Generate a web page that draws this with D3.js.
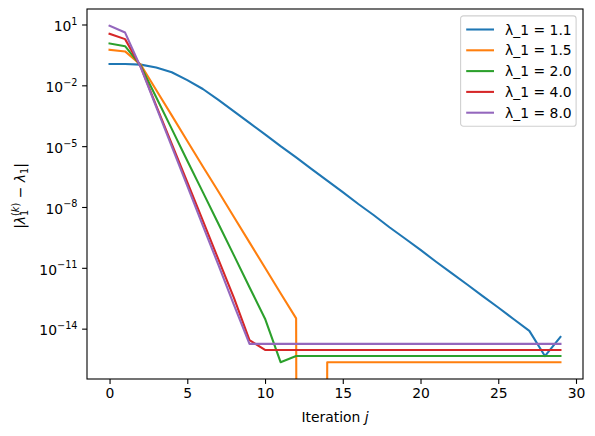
<!DOCTYPE html>
<html>
<head>
<meta charset="utf-8">
<script src="https://cdn.jsdelivr.net/npm/d3@7"></script>
<style>
  html, body { margin: 0; padding: 0; background: #fff; }
  svg { display: block; font-family: 'DejaVu Sans', sans-serif; }
</style>
</head>
<body>
<div class="viz"></div>
<script>
// iteration index on the horizontal axis
const iterations = [0, 1, 2, 3, 4, 5, 6, 7, 8, 9, 10, 11, 12, 13, 14, 15, 16, 17, 18, 19, 20, 21, 22, 23, 24, 25, 26, 27, 28, 29];
const seriesLabels = ['λ_1 = 1.1', 'λ_1 = 1.5', 'λ_1 = 2.0', 'λ_1 = 4.0', 'λ_1 = 8.0'];
// absolute error of the estimate, one array per lambda (0 means exact, drawn off the bottom)
const errorLambda11 = [0.112, 0.112, 0.105, 0.076, 0.044, 0.018, 6.6e-3, 1.9e-3, 5.2e-4, 1.4e-4, 3.8e-5, 1.0e-5, 2.8e-6, 7.4e-7, 2.0e-7, 5.4e-8, 1.4e-8, 3.9e-9, 1.0e-9, 2.8e-10, 7.6e-11, 2.0e-11, 5.5e-12, 1.5e-12, 4.0e-13, 1.1e-13, 2.9e-14, 7.8e-15, 4.44e-16, 3.9e-15];
const errorLambda15 = [0.57, 0.47, 0.105, 5.9e-3, 3.3e-4, 1.8e-5, 1.0e-6, 5.8e-8, 3.2e-9, 1.8e-10, 1.0e-11, 5.6e-13, 3.2e-14, 0, 2.22e-16, 2.22e-16, 2.22e-16, 2.22e-16, 2.22e-16, 2.22e-16, 2.22e-16, 2.22e-16, 2.22e-16, 2.22e-16, 2.22e-16, 2.22e-16, 2.22e-16, 2.22e-16, 2.22e-16, 2.22e-16];
const errorLambda20 = [1.16, 0.85, 0.093, 2.6e-3, 7.1e-5, 1.9e-6, 5.4e-8, 1.5e-9, 4.1e-11, 1.1e-12, 3.1e-14, 2.22e-16, 4.44e-16, 4.44e-16, 4.44e-16, 4.44e-16, 4.44e-16, 4.44e-16, 4.44e-16, 4.44e-16, 4.44e-16, 4.44e-16, 4.44e-16, 4.44e-16, 4.44e-16, 4.44e-16, 4.44e-16, 4.44e-16, 4.44e-16, 4.44e-16];
const errorLambda40 = [3.5, 1.9, 0.083, 1.0e-3, 1.3e-5, 1.7e-7, 2.1e-9, 2.6e-11, 3.3e-13, 2.7e-15, 8.88e-16, 8.88e-16, 8.88e-16, 8.88e-16, 8.88e-16, 8.88e-16, 8.88e-16, 8.88e-16, 8.88e-16, 8.88e-16, 8.88e-16, 8.88e-16, 8.88e-16, 8.88e-16, 8.88e-16, 8.88e-16, 8.88e-16, 8.88e-16, 8.88e-16, 8.88e-16];
const errorLambda80 = [8.6, 4.0, 0.078, 8.7e-4, 9.8e-6, 1.1e-7, 1.2e-9, 1.4e-11, 1.5e-13, 1.78e-15, 1.78e-15, 1.78e-15, 1.78e-15, 1.78e-15, 1.78e-15, 1.78e-15, 1.78e-15, 1.78e-15, 1.78e-15, 1.78e-15, 1.78e-15, 1.78e-15, 1.78e-15, 1.78e-15, 1.78e-15, 1.78e-15, 1.78e-15, 1.78e-15, 1.78e-15, 1.78e-15];
// tick values
const xTicks = [0, 5, 10, 15, 20, 25, 30];
const yTickExponents = [1, -2, -5, -8, -11, -14];

const colors = ['#1f77b4', '#ff7f0e', '#2ca02c', '#d62728', '#9467bd'];
const series = [errorLambda11, errorLambda15, errorLambda20, errorLambda40, errorLambda80]
  .map((values, i) => ({ label: seriesLabels[i], color: colors[i], values }));

const svgWidth = 595;
const svgHeight = 436;
const margin = {
  top: 9,
  right: 12,
  bottom: 57,
  left: 87,
};
const width = svgWidth - (margin.left + margin.right);
const height = svgHeight - (margin.top + margin.bottom);
const fontSize = 13.9;

const svg = d3
  .select('.viz')
  .append('svg')
  .attr('width', svgWidth)
  .attr('height', svgHeight);

svg
  .append('defs')
  .append('clipPath')
  .attr('id', 'plot-clip')
  .append('rect')
  .attr('width', width)
  .attr('height', height);

const group = svg
  .append('g')
  .attr('transform', `translate(${margin.left} ${margin.top})`);

// horizontal scale with matplotlib-like 5% margins
const xExtent = d3.extent(iterations);
const xPad = (xExtent[1] - xExtent[0]) * 0.05;
const xScale = d3
  .scaleLinear()
  .domain([xExtent[0] - xPad, xExtent[1] + xPad])
  .range([0, width]);

// log scale, margins computed in log space on positive values only
const positives = series.flatMap(d => d.values.filter(v => v > 0));
const logMin = Math.log10(d3.min(positives));
const logMax = Math.log10(d3.max(positives));
const logPad = (logMax - logMin) * 0.05;
const yScale = d3
  .scaleLog()
  .domain([10 ** (logMin - logPad), 10 ** (logMax + logPad)])
  .range([height, 0]);

// zero values are clipped to a tiny number, like matplotlib does
const line = d3
  .line()
  .x((d, i) => xScale(iterations[i]))
  .y(d => yScale(d > 0 ? d : 1e-300));

const groupLines = group
  .append('g')
  .attr('clip-path', 'url(#plot-clip)');

groupLines
  .selectAll('path')
  .data(series)
  .enter()
  .append('path')
  .attr('d', d => line(d.values))
  .attr('fill', 'none')
  .attr('stroke', d => d.color)
  .attr('stroke-width', 2.08)
  .attr('stroke-linejoin', 'round')
  .attr('stroke-linecap', 'square');

// x axis
const xAxis = d3
  .axisBottom(xScale)
  .tickValues(xTicks)
  .tickSize(4.9)
  .tickPadding(4)
  .tickFormat(d3.format('d'));

const gx = group
  .append('g')
  .attr('transform', `translate(0 ${height})`)
  .call(xAxis);

gx.select('.domain').remove();
gx.selectAll('line').attr('stroke', '#000').attr('stroke-width', 1.1);
gx.selectAll('text')
  .attr('font-family', 'DejaVu Sans')
  .attr('font-size', fontSize)
  .attr('fill', '#000');

// y axis with 10^n labels
const yAxis = d3
  .axisLeft(yScale)
  .tickValues(yTickExponents.map(e => 10 ** e))
  .tickSize(4.9)
  .tickFormat('');

const gy = group
  .append('g')
  .call(yAxis);

gy.select('.domain').remove();
gy.selectAll('line').attr('stroke', '#000').attr('stroke-width', 1.1);

const yLabels = gy
  .selectAll('.tick')
  .append('text')
  .attr('x', -9.5)
  .attr('y', 6.3)
  .attr('text-anchor', 'end')
  .attr('fill', '#000')
  .attr('font-family', 'DejaVu Sans')
  .attr('font-size', fontSize);

yLabels
  .append('tspan')
  .text('10');
yLabels
  .append('tspan')
  .attr('font-size', 9.7)
  .attr('dy', -6.3)
  .text((d, i) => String(yTickExponents[i]).replace('-', '\u2212'));

// frame
group
  .append('rect')
  .attr('width', width)
  .attr('height', height)
  .attr('fill', 'none')
  .attr('stroke', '#000')
  .attr('stroke-width', 1.1);

// axis labels
const xLabel = group
  .append('text')
  .attr('x', width / 2)
  .attr('y', height + 42.5)
  .attr('text-anchor', 'middle')
  .attr('font-size', fontSize)
  .attr('fill', '#000');
xLabel.append('tspan').text('Iteration ');
xLabel.append('tspan').attr('font-style', 'italic').text('j');

const yLabel = svg
  .append('text')
  .attr('transform', `translate(25 ${margin.top + height / 2 + 2}) rotate(-90)`)
  .attr('text-anchor', 'middle')
  .attr('font-size', fontSize)
  .attr('fill', '#000');
yLabel.append('tspan').text('|');
yLabel.append('tspan').attr('font-style', 'italic').text('λ');
yLabel.append('tspan').attr('font-size', 9.7).attr('dy', 3).text('1');
yLabel.append('tspan').attr('font-size', 9.7).attr('dx', -6.2).attr('dy', -9.5).text('(');
yLabel.append('tspan').attr('font-size', 9.7).attr('font-style', 'italic').text('k');
yLabel.append('tspan').attr('font-size', 9.7).text(')');
yLabel.append('tspan').attr('dy', 6.5).text(' \u2212 ');
yLabel.append('tspan').attr('font-style', 'italic').text('λ');
yLabel.append('tspan').attr('font-size', 9.7).attr('dy', 3).text('1');
yLabel.append('tspan').attr('dy', -3).text('|');

// legend in the upper right corner
const legendWidth = 115.5;
const legendHeight = 110.3;
const rowHeight = 20.8;
const legend = group
  .append('g')
  .attr('transform', `translate(${width - 6.9 - legendWidth} 6.9)`);

legend
  .append('rect')
  .attr('width', legendWidth)
  .attr('height', legendHeight)
  .attr('rx', 2.8)
  .attr('fill', '#fff')
  .attr('fill-opacity', 0.8)
  .attr('stroke', '#d0d0d0')
  .attr('stroke-width', 1.1);

const legendRows = legend
  .selectAll('g.row')
  .data(series)
  .enter()
  .append('g')
  .attr('class', 'row')
  .attr('transform', (d, i) => `translate(0 ${13.6 + i * rowHeight})`);

legendRows
  .append('line')
  .attr('x1', 5.6)
  .attr('x2', 33.4)
  .attr('stroke', d => d.color)
  .attr('stroke-width', 2.08);

legendRows
  .append('text')
  .attr('x', 44.5)
  .attr('y', 5)
  .attr('font-size', fontSize)
  .attr('fill', '#000')
  .text(d => d.label);
</script>
</body>
</html>
